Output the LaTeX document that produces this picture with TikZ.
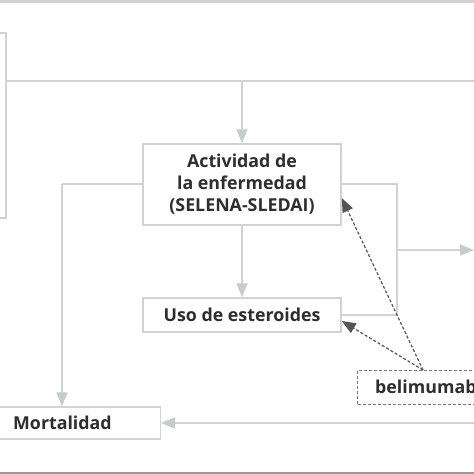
\documentclass[tikz,border=0pt]{standalone}
\usepackage{fontspec}
\setmainfont{Open Sans}
\usetikzlibrary{arrows.meta}
\definecolor{boxline}{HTML}{D2D2D2}
\definecolor{headgray}{HTML}{C5CCCC}
\definecolor{txt}{HTML}{2E2E2E}
\definecolor{darkarrow}{HTML}{555555}
\begin{document}
\begin{tikzpicture}[x=1pt,y=-1pt,
  lbl/.style={text=txt,font=\bfseries\fontsize{17.8}{22}\selectfont},
  box/.style={lbl,draw=boxline,line width=1.5pt,fill=white,inner sep=0pt,align=center},
  conn/.style={draw=boxline,line width=1.5pt},
  arr/.style={conn,-{Triangle[length=14pt,width=11pt,color=headgray]}},
  darr/.style={draw=darkarrow,line width=1.2pt,dash pattern=on 3pt off 2pt,-{Triangle[length=14pt,width=11pt,color=darkarrow]}}]
\useasboundingbox (0,0) rectangle (474,474);
\fill[white] (0,0) rectangle (474,474);
% frame lines
\draw[draw=boxline,line width=3pt] (0,1) -- (474,1);
\draw[draw=black!40,line width=3pt] (0,473) -- (474,473);
% boxes
\node[box,minimum width=30pt,minimum height=185pt] (left) at (-9,125.5) {};
\node[box,minimum width=198pt,minimum height=81pt] (act) at (242,184.5) {Actividad de\\la enfermedad\\(SELENA-SLEDAI)};
\node[box,minimum width=198pt,minimum height=34pt] (uso) at (242,315) {Uso de esteroides};
\node[box,minimum width=186pt,minimum height=32pt,anchor=east] (mort) at (161,423) {};
\node[lbl,anchor=west,inner sep=0pt] (mortt) at (13,423) {Mortalidad};
\node[box,draw=darkarrow!80,line width=1pt,dash pattern=on 3pt off 2pt,minimum width=130pt,minimum height=34pt,anchor=west] (beli) at (357,387) {};
\node[lbl,anchor=west,inner sep=0pt] (belit) at (375,387) {belimumab};
% coordinates
\coordinate (topR) at (474,81);
\coordinate (topJ) at (242,81);
\coordinate (lJ) at (62,184);
\coordinate (rJ) at (397,184);
\coordinate (rD) at (397,315);
\coordinate (rM) at (397,250);
\coordinate (rOut) at (474,250);
\coordinate (botR) at (474,423);
\coordinate (bsrc) at (423,370);
% connectors
\draw[conn] (left.east |- topR) -- (topR);
\draw[arr] (topJ) -- (act.north);
\draw[arr] (act.south) -- (uso.north);
\draw[conn] (act.west |- lJ) -- (lJ);
\draw[arr] (lJ) -- (lJ |- mort.north);
\draw[conn] (act.east |- rJ) -- (rJ) -- (rD) -- (uso.east |- rD);
\draw[arr] (rM) -- (rOut);
\draw[arr] (botR) -- (mort.east);
\draw[darr] (bsrc) -- (act.east |- 0,198);
\draw[darr] (bsrc) -- (uso.east |- 0,321);
\end{tikzpicture}
\end{document}
